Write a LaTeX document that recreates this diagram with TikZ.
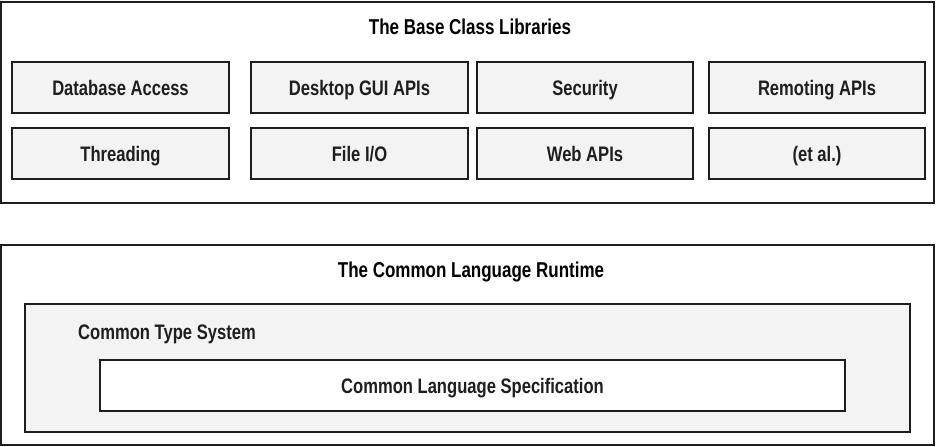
\documentclass[tikz,border=0pt]{standalone}
\usepackage{fontspec}
\setmainfont[FakeStretch=0.79]{Liberation Sans}
\definecolor{edge}{HTML}{1E1E1E}
\definecolor{panel}{HTML}{F3F3F3}
\begin{document}
\begin{tikzpicture}[x=1pt,y=-1pt,
  lbl/.style={font=\fontsize{21}{24}\selectfont\bfseries, text=edge, text height=15pt, text depth=0pt},
  ttl/.style={font=\fontsize{21.5}{24}\selectfont\bfseries, text=black, text height=15pt, text depth=0pt},
  outerbox/.style={draw=edge, line width=1.8pt, fill=white, rectangle, inner sep=0pt},
  cell/.style={draw=edge, line width=1.8pt, fill=panel, rectangle, inner sep=0pt,
    minimum width=217pt, minimum height=51pt, lbl},
]
\useasboundingbox (0,0) rectangle (937,447);
% Base class libraries
\node[outerbox, minimum width=933pt, minimum height=201pt] (bcl) at (467.5,102.5) {};
\node[ttl] (bcltitle) at (470,27) {The Base Class Libraries};
\node[cell] (db) at (120.5,87.5) {Database Access};
\node[cell] (gui) at (359.5,87.5) {Desktop GUI APIs};
\node[cell, minimum width=216pt] (sec) at (585,87.5) {Security};
\node[cell, minimum width=216pt] (rem) at (817,87.5) {Remoting APIs};
\node[cell] (thr) at (120.5,153.5) {Threading};
\node[cell] (fio) at (359.5,153.5) {File I/O};
\node[cell, minimum width=216pt] (web) at (585,153.5) {Web APIs};
\node[cell, minimum width=216pt] (etal) at (817,153.5) {(et al.)};
% Common language runtime
\node[outerbox, minimum width=933pt, minimum height=200pt] (clr) at (467.5,345) {};
\node[ttl] (clrtitle) at (471,270) {The Common Language Runtime};
\node[outerbox, fill=panel, minimum width=885pt, minimum height=128pt] (cts) at (467.5,368) {};
\node[lbl, anchor=west, inner sep=0pt] (ctslabel) at (78,332) {Common Type System};
\node[outerbox, minimum width=745pt, minimum height=51pt, lbl] (cls) at (472.5,385.5) {Common Language Specification};
\end{tikzpicture}
\end{document}
